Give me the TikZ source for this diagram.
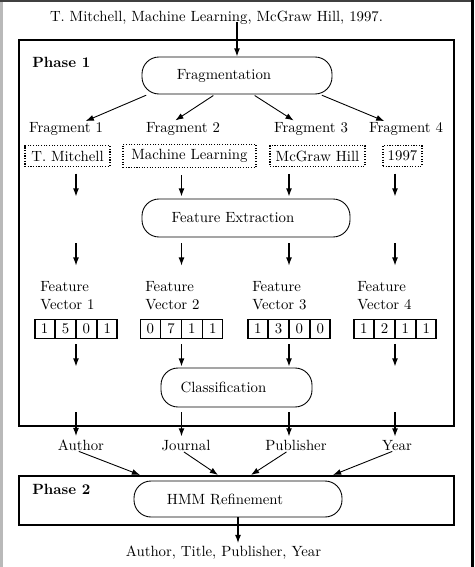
\documentclass[tikz,border=0pt]{standalone}
\usepackage{tikz}
\usetikzlibrary{positioning, calc, shapes, arrows.meta}
\newlength{\pxu}
\setlength{\pxu}{0.6757pt}

\begin{document}
\begin{tikzpicture}[
    x = 0.6757pt, y = -0.6757pt,
    arr/.style = { -{Latex[length=5.5pt, width=4pt]}, line width=0.8pt },
    thinarr/.style = { -{Latex[length=5.5pt, width=4pt]}, line width=0.6pt },
    phase/.style = { draw, line width=1.4pt, minimum width=435\pxu },
    stage/.style = { draw, rounded corners=17\pxu, line width=0.6pt,
        execute at begin node=\hspace*{-26\pxu} }
]
    \tikzstyle{frag} = [draw, densely dotted, line width=0.8pt, inner xsep=0pt, minimum height=18\pxu];
    \tikzstyle{vec} = [draw, line width=0.9pt, rectangle split, rectangle split horizontal,
        rectangle split parts=4, inner xsep=4.1pt, inner ysep=2.9pt];
    \tikzstyle{lbl} = [inner sep=0pt, anchor=base, text depth=0pt];
    \tikzstyle{vlbl} = [inner sep=0pt, anchor=west, align=left];

    \useasboundingbox (0,0) rectangle (474,567);
    \fill[gray!55] (0,0) rectangle (3,567);
    \fill[black!75] (0,0) rectangle (474,2);
    \fill[black] (471,0) rectangle (474,567);

    \node[lbl] (src) at (216.5,22) {T. Mitchell, Machine Learning, McGraw Hill, 1997.};

    \node[phase, minimum height=386\pxu] (ph1) at (236.5,233) {};
    \node[inner sep=0pt, anchor=base west, font=\bfseries] (p1) at (32,68) {Phase 1};
    \node[stage, minimum width=190\pxu, minimum height=37\pxu] (frag) at (237,75.5) {Fragmentation};

    \node[lbl] (fl1) at (66,133) {Fragment 1};
    \node[lbl] (fl2) at (183,133) {Fragment 2};
    \node[lbl] (fl3) at (311,133) {Fragment 3};
    \node[lbl] (fl4) at (406,133) {Fragment 4};

    \node[frag, minimum width=85\pxu] (fr1) at (67.5,156) {T. Mitchell};
    \node[frag, minimum width=133\pxu] (fr2) at (189.5,156) {Machine Learning};
    \node[frag, minimum width=95\pxu] (fr3) at (317.5,156) {McGraw Hill};
    \node[frag, minimum width=39\pxu] (fr4) at (402.5,156) {1997};

    \node[stage, minimum width=208\pxu, minimum height=38\pxu] (fe) at (246,218) {Feature Extraction};

    \node[vlbl] (vl1) at (40,296) {Feature\\Vector 1};
    \node[vlbl] (vl2) at (145,296) {Feature\\Vector 2};
    \node[vlbl] (vl3) at (252,296) {Feature\\Vector 3};
    \node[vlbl] (vl4) at (357,296) {Feature\\Vector 4};

    \node[vec] (fv1) at (76,329) {1 \nodepart{two} 5 \nodepart{three} 0 \nodepart{four} 1};
    \node[vec] (fv2) at (181.5,329) {0 \nodepart{two} 7 \nodepart{three} 1 \nodepart{four} 1};
    \node[vec] (fv3) at (289,329) {1 \nodepart{two} 3 \nodepart{three} 0 \nodepart{four} 0};
    \node[vec] (fv4) at (395,329) {1 \nodepart{two} 2 \nodepart{three} 1 \nodepart{four} 1};

    \node[stage, minimum width=151\pxu, minimum height=39\pxu] (cls) at (236.5,387.5) {Classification};

    \node[lbl] (au) at (81,450) {Author};
    \node[lbl] (jo) at (186,450) {Journal};
    \node[lbl] (pu) at (296,450) {Publisher};
    \node[lbl] (ye) at (397,450) {Year};

    \node[phase, minimum height=49\pxu] (ph2) at (236.5,500.5) {};
    \node[inner sep=0pt, anchor=base west, font=\bfseries] (p2) at (32,494) {Phase 2};
    \node[stage, minimum width=208\pxu, minimum height=36\pxu] (hmm) at (238,499) {HMM Refinement};

    \node[lbl] (out) at (223.5,556) {Author, Title, Publisher, Year};

    \draw[arr] (src.south -| frag.north) -- (frag.north);
    \draw[thinarr, shorten <=2\pxu, shorten >=4\pxu] ([xshift=-89\pxu]frag.south) -- ([xshift=16\pxu]fl1.north);
    \draw[thinarr, shorten <=2\pxu, shorten >=4\pxu] ([xshift=-22\pxu]frag.south) -- ([xshift=-11\pxu]fl2.north);
    \draw[thinarr, shorten <=2\pxu, shorten >=4\pxu] ([xshift=16\pxu]frag.south) -- ([xshift=-14\pxu]fl3.north);
    \draw[thinarr, shorten <=2\pxu, shorten >=4\pxu] ([xshift=83\pxu]frag.south) -- ([xshift=-18\pxu]fl4.north);

    \draw[arr, shorten <=7\pxu, shorten >=2\pxu] (fr1.south -| fv1) -- (fe.north -| fv1);
    \draw[arr, shorten <=7\pxu, shorten >=2\pxu] (fr2.south -| fv2) -- (fe.north -| fv2);
    \draw[arr, shorten <=7\pxu, shorten >=2\pxu] (fr3.south -| fv3) -- (fe.north -| fv3);
    \draw[arr, shorten <=7\pxu, shorten >=2\pxu] (fr4.south -| fv4) -- (fe.north -| fv4);

    \draw[arr, shorten <=6\pxu, shorten >=16\pxu] (fe.south -| fv1) -- (vl1.north -| fv1);
    \draw[arr, shorten <=6\pxu, shorten >=16\pxu] (fe.south -| fv2) -- (vl2.north -| fv2);
    \draw[arr, shorten <=6\pxu, shorten >=16\pxu] (fe.south -| fv3) -- (vl3.north -| fv3);
    \draw[arr, shorten <=6\pxu, shorten >=16\pxu] (fe.south -| fv4) -- (vl4.north -| fv4);

    \draw[arr, shorten <=5\pxu, shorten >=1\pxu] (fv1.south) -- (cls.north -| fv1);
    \draw[arr, shorten <=5\pxu, shorten >=1\pxu] (fv2.south) -- (cls.north -| fv2);
    \draw[arr, shorten <=5\pxu, shorten >=1\pxu] (fv3.south) -- (cls.north -| fv3);
    \draw[arr, shorten <=5\pxu, shorten >=1\pxu] (fv4.south) -- (cls.north -| fv4);

    \draw[arr, shorten <=5\pxu, shorten >=3\pxu] (cls.south -| fv1) -- (au.north -| fv1);
    \draw[arr, shorten <=5\pxu, shorten >=3\pxu] (cls.south -| fv2) -- (jo.north -| fv2);
    \draw[arr, shorten <=5\pxu, shorten >=3\pxu] (cls.south -| fv3) -- (pu.north -| fv3);
    \draw[arr, shorten <=5\pxu, shorten >=3\pxu] (cls.south -| fv4) -- (ye.north -| fv4);

    \draw[thinarr, shorten <=3\pxu] (au.south -| fv1) -- ([xshift=-96.5\pxu]ph2.north);
    \draw[thinarr, shorten <=3\pxu] (jo.south -| fv2) -- ([xshift=-18.5\pxu]ph2.north);
    \draw[thinarr, shorten <=3\pxu] (pu.south -| fv3) -- ([xshift=14.5\pxu]ph2.north);
    \draw[thinarr, shorten <=3\pxu] (ye.south -| fv4) -- ([xshift=96.5\pxu]ph2.north);

    \draw[arr, shorten >=2\pxu] (hmm.south) -- (hmm.south |- out.north);
\end{tikzpicture}
\end{document}
